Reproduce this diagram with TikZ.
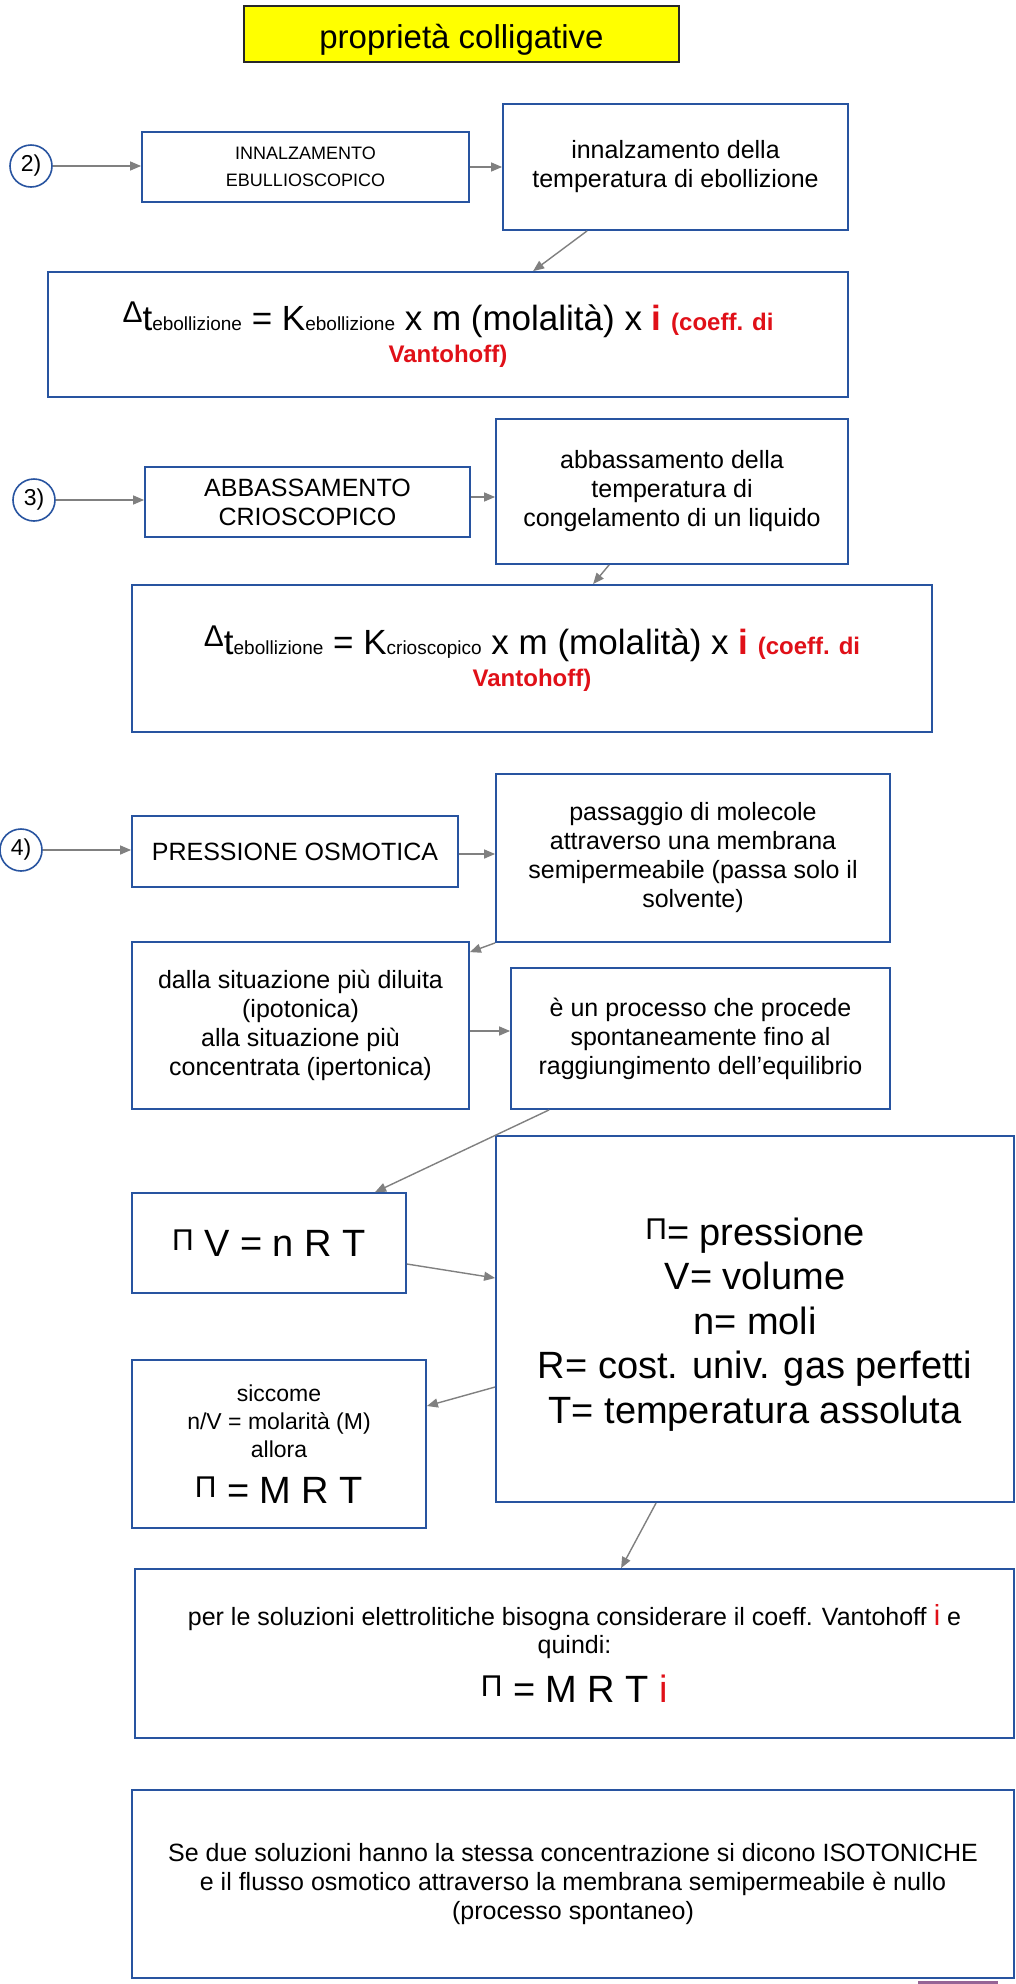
\documentclass[tikz,border=0pt]{standalone}
\usepackage{fontspec}
\setmainfont{Liberation Sans}
\usetikzlibrary{arrows.meta,calc}
\definecolor{boxblue}{RGB}{40,84,160}
\definecolor{arrgray}{RGB}{128,128,128}
\definecolor{vred}{RGB}{224,16,24}
\definecolor{titleyellow}{RGB}{255,255,0}
\definecolor{titleborder}{RGB}{40,40,40}
\definecolor{markpurple}{RGB}{150,100,150}
\newcommand{\myfs}[2]{\fontsize{#1}{#2}\selectfont}
\newcommand{\smallPi}[2]{\raisebox{#2}{\myfs{#1}{#1}Π}}
\newcommand{\dtline}[1]{\raisebox{8pt}{\myfs{30}{30}Δ}t{\myfs{19}{19}ebollizione} = K{\myfs{19}{19}#1} x m (molalità) x {\color{vred}\bfseries i} {\color{vred}\bfseries\myfs{24}{24}(coeff. di}\\{\color{vred}\bfseries\myfs{24}{24}Vantohoff)}}
\begin{document}
\begin{tikzpicture}[x=1pt,y=-1pt,
  box/.style={draw=boxblue, line width=1.8pt, fill=white, align=center, inner sep=0pt},
  body/.style={font=\myfs{25}{29}},
  arr/.style={draw=arrgray, line width=1.4pt, -{Triangle[length=11pt,width=9pt]}},
  num/.style={circle, draw=boxblue, line width=1.6pt, minimum size=42pt, inner sep=0pt, fill=white, font=\myfs{23}{23}}]
\useasboundingbox (0,0) rectangle (1016,1984);
\fill[white] (0,0) rectangle (1016,1984);

% title
\node[draw=titleborder, line width=1.5pt, fill=titleyellow, minimum width=435pt, minimum height=56pt, inner sep=0pt, font=\myfs{33}{38}] (title) at (461.5,34) {\rule{0pt}{36pt}proprietà colligative};

% section 2
\node[num] (c2) at (31,166) {2)};
\node[box, minimum width=327pt, minimum height=70pt, font=\myfs{18}{27}] (b2a) at (305.5,167) {INNALZAMENTO\\EBULLIOSCOPICO};
\node[box, body, minimum width=345pt, minimum height=126pt] (b2b) at (675.5,167) {innalzamento della\\temperatura di ebollizione};
\node[box, minimum width=800pt, minimum height=125pt, font=\myfs{35}{32}] (f1) at (448,334.5) {\dtline{ebollizione}};

% section 3
\node[num] (c3) at (34,500) {3)};
\node[box, body, minimum width=325pt, minimum height=70pt] (b3a) at (307.5,502) {ABBASSAMENTO\\CRIOSCOPICO};
\node[box, body, minimum width=352pt, minimum height=145pt] (b3b) at (672,491.5) {abbassamento della\\temperatura di\\congelamento di un liquido};
\node[box, minimum width=800pt, minimum height=147pt, font=\myfs{35}{32}] (f2) at (532,658.5) {\dtline{crioscopico}};

% section 4
\node[num] (c4) at (21,850) {4)};
\node[box, body, minimum width=326pt, minimum height=71pt] (b4a) at (295,851.5) {PRESSIONE OSMOTICA};
\node[box, body, minimum width=394pt, minimum height=168pt] (b4b) at (693,858) {passaggio di molecole\\attraverso una membrana\\semipermeabile (passa solo il\\solvente)};
\node[box, body, minimum width=337pt, minimum height=167pt] (b4c) at (300.5,1025.5) {dalla situazione più diluita\\(ipotonica)\\alla situazione più\\concentrata (ipertonica)};
\node[box, body, minimum width=379pt, minimum height=141pt] (b4d) at (700.5,1038.5) {è un processo che procede\\spontaneamente fino al\\raggiungimento dell'equilibrio};
\node[box, minimum width=274pt, minimum height=100pt, font=\myfs{38}{44}] (pv) at (269,1243) {\smallPi{30}{6pt} V = n R T};
\node[box, minimum width=518pt, minimum height=366pt, font=\myfs{38}{44.5}] (big) at (755,1319) {\rule{0pt}{38pt}\smallPi{30}{6pt}= pressione\\V= volume\\n= moli\\R= cost. univ. gas perfetti\\T= temperatura assoluta};
\node[box, minimum width=294pt, minimum height=168pt, font=\myfs{23}{28}] (sic) at (279,1444) {siccome\\n/V = molarità (M)\\allora\\[18pt]{\myfs{38}{38}\smallPi{30}{6pt} = M R T}};
\node[box, minimum width=879pt, minimum height=169pt, font=\myfs{25}{28}] (elet) at (574.5,1653.5) {per le soluzioni elettrolitiche bisogna considerare il coeff. Vantohoff {\color{vred}\myfs{29}{29}i} e\\quindi:\\[15pt]{\myfs{38}{38}\smallPi{30}{6pt} = M R T {\color{vred}i}}};
\node[box, body, minimum width=882pt, minimum height=188pt] (iso) at (573,1884) {Se due soluzioni hanno la stessa concentrazione si dicono ISOTONICHE\\e il flusso osmotico attraverso la membrana semipermeabile è nullo\\(processo spontaneo)};

% connectors
\draw[arr] (c2.east) -- (c2.east -| b2a.west);
\draw[arr] (b2a.east) -- (b2a.east -| b2b.west);
\draw[arr] ([xshift=85pt]b2b.south west) -- ([xshift=486pt]f1.north west);
\draw[arr] (c3.east) -- (c3.east -| b3a.west);
\draw[arr] ([yshift=5pt]b3a.east) -- ([yshift=5pt]b3a.east -| b3b.west);
\draw[arr] ([xshift=114pt]b3b.south west) -- ([xshift=462pt]f2.north west);
\draw[arr] (c4.east) -- (c4.east -| b4a.west);
\draw[arr] ([yshift=-2.5pt]b4a.east) -- ([yshift=-2.5pt]b4a.east -| b4b.west);
\draw[arr] (b4b.south west) -- ([yshift=-11pt]b4c.north east);
\draw[arr] ([yshift=-5.5pt]b4c.east) -- ([yshift=-5.5pt]b4c.east -| b4d.west);
\draw[arr] ([xshift=39pt]b4d.south west) -- ([xshift=244pt]pv.north west);
\draw[arr] ([yshift=-21pt]pv.east) -- ([yshift=41pt]big.west);
\draw[arr] ([yshift=-68pt]big.west) -- ([yshift=38pt]sic.east);
\draw[arr] ([xshift=161pt]big.south west) -- ([xshift=487pt]elet.north west);

% partial mark at bottom edge
\fill[markpurple] (918,1981) rectangle (998,1984);
\end{tikzpicture}
\end{document}
